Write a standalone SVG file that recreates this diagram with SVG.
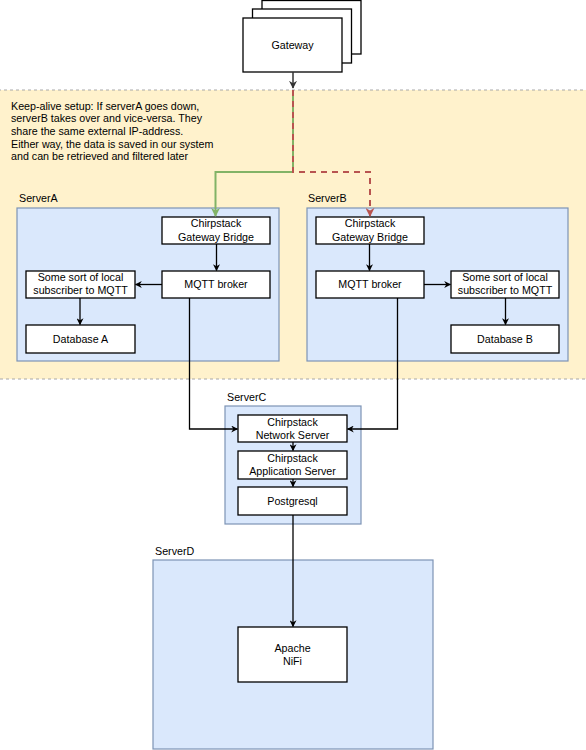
<svg xmlns="http://www.w3.org/2000/svg" width="586" height="750" viewBox="0 0 586 750">
<defs>
<style>
text{font-family:"Liberation Sans",Arial,sans-serif;font-size:10.7px;fill:#000}
.c{text-anchor:middle}
.box{fill:#fff;stroke:#000;stroke-width:1.3}
.cont{fill:#dae8fc;stroke:#7d93b5;stroke-width:1.2}
.ln{fill:none;stroke:#000;stroke-width:1.3}
</style>
<marker id="ab" viewBox="0 0 10 10" refX="9" refY="5" markerWidth="7" markerHeight="7" markerUnits="userSpaceOnUse" orient="auto"><path d="M0,0 L10,5 L0,10 L3,5 Z" fill="#000"/></marker>
<marker id="ag" viewBox="0 0 10 10" refX="9" refY="5" markerWidth="9" markerHeight="9" markerUnits="userSpaceOnUse" orient="auto"><path d="M0,0 L10,5 L0,10 L3,5 Z" fill="#82b366"/></marker>
<marker id="ar" viewBox="0 0 10 10" refX="9" refY="5" markerWidth="9" markerHeight="9" markerUnits="userSpaceOnUse" orient="auto"><path d="M0,0 L10,5 L0,10 L3,5 Z" fill="#b85450"/></marker>
<marker id="ad" viewBox="0 0 10 10" refX="9" refY="5" markerWidth="8" markerHeight="8" markerUnits="userSpaceOnUse" orient="auto"><path d="M0,0 L10,5 L0,10 L3,5 Z" fill="#333"/></marker>
</defs>
<rect width="586" height="750" fill="#fff"/>

<g id="keepalive-area">
<rect x="-2" y="90" width="590" height="289" fill="#fff2cc" stroke="#a8a8a8" stroke-width="1" stroke-dasharray="3,3"/>
<text x="11"><tspan x="11" y="109.8">Keep-alive setup: If serverA goes down,</tspan><tspan x="11" y="122.4">serverB takes over and vice-versa. They</tspan><tspan x="11" y="135">share the same external IP-address.</tspan><tspan x="11" y="147.6">Either way, the data is saved in our system</tspan><tspan x="11" y="160.2">and can be retrieved and filtered later</tspan></text>
</g>

<g id="gateway">
<rect class="box" x="262" y="0.5" width="99" height="53.5"/>
<rect class="box" x="252.5" y="9" width="99" height="54"/>
<rect class="box" x="243" y="18" width="99" height="54"/>
<text class="c" x="292.5" y="48.8">Gateway</text>
</g>

<g id="serverA">
<text x="19" y="201.5">ServerA</text>
<rect class="cont" x="17" y="208" width="262" height="153"/>
</g>
<g id="bridgeA">
<rect class="box" x="162" y="217" width="108" height="27"/>
<text class="c" x="216" y="227">Chirpstack</text>
<text class="c" x="216" y="240.5">Gateway Bridge</text>
</g>
<g id="mqttA">
<rect class="box" x="162" y="271" width="108" height="27"/>
<text class="c" x="216" y="288.3">MQTT broker</text>
</g>
<g id="subA">
<rect class="box" x="26" y="271" width="109" height="27"/>
<text class="c" x="80.5" y="281">Some sort of local</text>
<text class="c" x="80.5" y="294.3">subscriber to MQTT</text>
</g>
<g id="dbA">
<rect class="box" x="26" y="325" width="109" height="28"/>
<text class="c" x="80.5" y="342.8">Database A</text>
</g>

<g id="serverB">
<text x="308" y="201.5">ServerB</text>
<rect class="cont" x="307" y="208" width="261" height="153"/>
</g>
<g id="bridgeB">
<rect class="box" x="316" y="217" width="108" height="27"/>
<text class="c" x="370" y="227">Chirpstack</text>
<text class="c" x="370" y="240.5">Gateway Bridge</text>
</g>
<g id="mqttB">
<rect class="box" x="316" y="271" width="108" height="27"/>
<text class="c" x="370" y="288.3">MQTT broker</text>
</g>
<g id="subB">
<rect class="box" x="451" y="271" width="108" height="27"/>
<text class="c" x="505" y="281">Some sort of local</text>
<text class="c" x="505" y="294.3">subscriber to MQTT</text>
</g>
<g id="dbB">
<rect class="box" x="451" y="325" width="108" height="28"/>
<text class="c" x="505" y="342.8">Database B</text>
</g>

<g id="serverC">
<text x="227" y="400.5">ServerC</text>
<rect class="cont" x="225" y="406" width="136" height="118"/>
</g>
<g id="networkServer">
<rect class="box" x="238" y="415" width="109" height="27"/>
<text class="c" x="292.5" y="425.5">Chirpstack</text>
<text class="c" x="292.5" y="438.8">Network Server</text>
</g>
<g id="appServer">
<rect class="box" x="238" y="451" width="109" height="28"/>
<text class="c" x="292.5" y="461.5">Chirpstack</text>
<text class="c" x="292.5" y="474.8">Application Server</text>
</g>
<g id="postgresql">
<rect class="box" x="238" y="487" width="109" height="28"/>
<text class="c" x="292.5" y="504.8">Postgresql</text>
</g>

<g id="serverD">
<text x="155" y="554.5">ServerD</text>
<rect class="cont" x="153" y="560" width="280" height="189"/>
</g>
<g id="nifi">
<rect class="box" x="238" y="627" width="109" height="55"/>
<text class="c" x="292.5" y="651.8">Apache</text>
<text class="c" x="292.5" y="664.8">NiFi</text>
</g>

<g id="connectors">
<path d="M293,72 V88" fill="none" stroke="#333" stroke-width="1.5" marker-end="url(#ad)"/>
<path d="M293,90 V172 H215.5 V216" fill="none" stroke="#82b366" stroke-width="2" marker-end="url(#ag)"/>
<path d="M293,90 V172 H370 V216" fill="none" stroke="#b85450" stroke-width="2" stroke-dasharray="6,5" marker-end="url(#ar)"/>
<path class="ln" d="M216.5,244 V270.5" marker-end="url(#ab)"/>
<path class="ln" d="M162,284.5 H135.5" marker-end="url(#ab)"/>
<path class="ln" d="M80,298 V324.5" marker-end="url(#ab)"/>
<path class="ln" d="M369.5,244 V270.5" marker-end="url(#ab)"/>
<path class="ln" d="M424,284.5 H450.5" marker-end="url(#ab)"/>
<path class="ln" d="M505.5,298 V324.5" marker-end="url(#ab)"/>
<path class="ln" d="M189.5,298 V429 H237.5" marker-end="url(#ab)"/>
<path class="ln" d="M397.5,298 V429 H347.5" marker-end="url(#ab)"/>
<path class="ln" d="M293,442 V450.5" marker-end="url(#ab)"/>
<path class="ln" d="M293,479 V486.5" marker-end="url(#ab)"/>
<path class="ln" d="M293,515 V626.5" marker-end="url(#ab)"/>
</g>
</svg>
